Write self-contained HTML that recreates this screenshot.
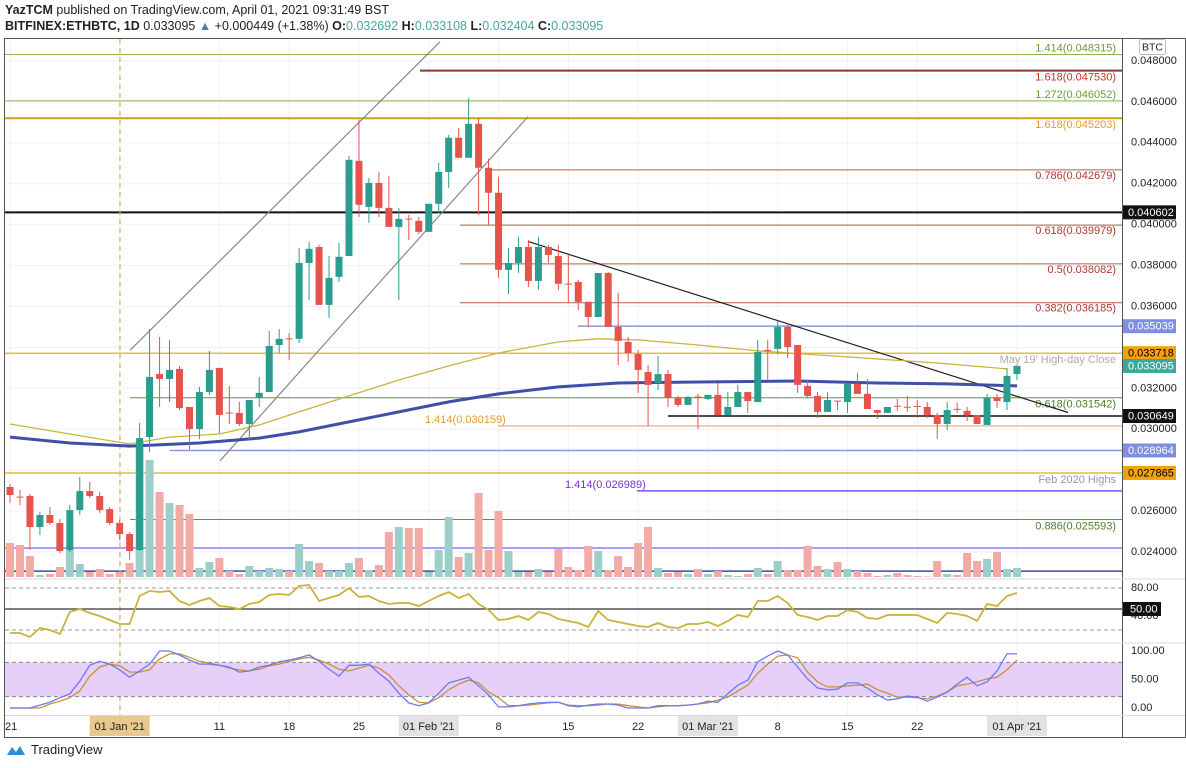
<!DOCTYPE html>
<html><head><meta charset="utf-8">
<style>
html,body{margin:0;padding:0;background:#fff;width:1186px;height:768px;overflow:hidden;font-family:"Liberation Sans",sans-serif;}
#hdr1{position:absolute;left:5px;top:3px;font-size:12.5px;color:#222;}
#hdr2{position:absolute;left:5px;top:19px;font-size:12.5px;color:#222;}
.v{color:#4aa3a3}
#chart{position:absolute;left:0;top:0}
#logo{position:absolute;left:5px;top:742px;font-size:13px;color:#222;display:flex;align-items:center;gap:4px}
</style></head>
<body>
<div id="hdr1"><b>YazTCM</b> published on TradingView.com, April 01, 2021 09:31:49 BST</div>
<div id="hdr2"><b>BITFINEX:ETHBTC, 1D</b> 0.033095 <span style="color:#4a7fa8">▲</span> +0.000449 (+1.38%) <b>O:</b><span class="v">0.032692</span> <b>H:</b><span class="v">0.033108</span> <b>L:</b><span class="v">0.032404</span> <b>C:</b><span class="v">0.033095</span></div>
<svg id="chart" width="1186" height="768"></svg>
<div id="logo"><svg width="22" height="14"><path d="M2 12 L7 4 L11 9 L15 3 L20 12 Z" fill="#2d8fd5"/></svg>TradingView</div>
<script>
const opens=[.02718,.02671,.02674,.02522,.02581,.02542,.02410,.02605,.02698,.02674,.02610,.02542,.02488,.02410,.02962,.03270,.03246,.03295,.03109,.03001,.03182,.03300,.03082,.03080,.03026,.03153,.03182,.03412,.03444,.03442,.03813,.03891,.03608,.03745,.03847,.04312,.04087,.04204,.04082,.03989,.04030,.04019,.03965,.04102,.04258,.04425,.04327,.04493,.04278,.04156,.03779,.03813,.03891,.03725,.03891,.03847,.03712,.03720,.03623,.03549,.03764,.03500,.03427,.03368,.03280,.03226,.03270,.03153,.03119,.03160,.03148,.03168,.03070,.03109,.03182,.03133,.03388,.03393,.03500,.03412,.03212,.03163,.03085,.03140,.03133,.03222,.03173,.03094,.03080,.03115,.03110,.03114,.03109,.03070,.03026,.03100,.03090,.03070,.03021,.03153,.03133,.03270];
const closes=[.02679,.02668,.02522,.02581,.02542,.02405,.02605,.02698,.02674,.02605,.02542,.02488,.02405,.02957,.03256,.03246,.03290,.03104,.03001,.03182,.03290,.03070,.03078,.03026,.03143,.03178,.03407,.03442,.03440,.03813,.03882,.03608,.03740,.03843,.04317,.04097,.04204,.04082,.03989,.04028,.04026,.03965,.04102,.04258,.04425,.04327,.04493,.04278,.04156,.03779,.03813,.03891,.03725,.03891,.03852,.03711,.03710,.03623,.03549,.03764,.03500,.03432,.03373,.03290,.03217,.03270,.03153,.03119,.03158,.03156,.03168,.03070,.03109,.03182,.03138,.03378,.03386,.03500,.03402,.03217,.03163,.03085,.03143,.03136,.03222,.03173,.03099,.03080,.03109,.03112,.03107,.03111,.03070,.03026,.03094,.03097,.03070,.03026,.03153,.03138,.03261,.03310];
const highs=[.02733,.02703,.02684,.02596,.02620,.02561,.02630,.02767,.02742,.02693,.02620,.02556,.02498,.03031,.03490,.03451,.03437,.03310,.03109,.03207,.03383,.03300,.03212,.03134,.03143,.03256,.03481,.03490,.03471,.03887,.03916,.03901,.03847,.03911,.04336,.04512,.04229,.04258,.04239,.04082,.04048,.04038,.04102,.04302,.04439,.04473,.04620,.04522,.04322,.04234,.03887,.03940,.03926,.03940,.03901,.03901,.03852,.03730,.03623,.03764,.03769,.03667,.03451,.03388,.03314,.03358,.03290,.03163,.03163,.03173,.03168,.03226,.03182,.03217,.03182,.03437,.03437,.03530,.03510,.03412,.03241,.03182,.03182,.03140,.03222,.03275,.03246,.03094,.03109,.03148,.03163,.03143,.03133,.03080,.03133,.03129,.03109,.03070,.03173,.03173,.03300,.03310];
const lows=[.02640,.02630,.02410,.02483,.02532,.02395,.02400,.02581,.02664,.02591,.02532,.02459,.02361,.02405,.02889,.03109,.03133,.03094,.02899,.02953,.03168,.02982,.03026,.03016,.02948,.03109,.03182,.03373,.03339,.03422,.03632,.03608,.03544,.03720,.03847,.04038,.04009,.04038,.03989,.03632,.03926,.03955,.03965,.04058,.04180,.04327,.04327,.04048,.03999,.03740,.03662,.03764,.03696,.03681,.03813,.03681,.03618,.03583,.03500,.03549,.03500,.03314,.03329,.03178,.03016,.03192,.03109,.03109,.03119,.03001,.03143,.03070,.03070,.03109,.03080,.03133,.03241,.03368,.03349,.03178,.03153,.03055,.03085,.03094,.03080,.03173,.03099,.03050,.03080,.03090,.03085,.03055,.03055,.02953,.02997,.03080,.03041,.03026,.03021,.03104,.03094,.03241];
const volumes=[34,32,21,2,3,10,27,13,5,8,3,5,14,135,117,85,74,72,63,9,15,19,6,3,11,6,9,8,6,33,16,14,6,6,14,19,7,12,45,50,49,49,5,27,60,20,24,84,27,66,26,5,5,8,5,28,10,7,31,26,7,21,10,34,50,9,4,5,3,8,3,6,2,1,3,9,3,16,7,7,31,11,8,15,8,6,4,1,2,4,2,1,0.5,16,3,2,24,16,18,25,8,9];
const rsiVals=[15.7,15.7,10,22.9,20,14.3,45.7,50,44.3,40,34.3,28.6,28.6,68.6,75.7,74.3,75.7,61.4,55.7,61.4,65.7,54.3,52.9,50,57.1,60,70,71.4,70,82.9,84.3,61.4,65.7,70,80,67.1,68.6,61.4,57.1,58.6,58.6,54.3,61.4,68.6,74.3,65.7,71.4,57.1,48.6,34.3,35.7,40,34.3,45.7,42.9,35.7,32.9,30,24.3,47.1,34.3,31.4,28.6,25.7,24.3,30,24.3,22.9,28.6,28.6,31.4,25.7,32.9,41.4,38.6,61.4,61.4,68.6,58.6,41.4,38.6,34.3,40,40,48.6,45.7,37.1,35.7,41.4,41.4,41.4,41.4,35.7,30,44.3,42.9,40,32.9,57.1,54.3,68.6,72.9];
const stochK=[0,0,0,5,10,18,25,47,75,82,77,67,54,65,77,100,100,93,84,77,77,75,72,63,65,72,75,81,84,88,93,82,68,56,75,75,77,61,47,26,9,4,9,26,44,49,54,39,23,2,2,4,7,9,10,10,4,2,5,7,7,5,0,0,0,4,4,4,5,7,12,10,25,40,49,81,91,100,93,72,51,35,32,33,44,44,35,23,14,16,21,19,12,19,28,42,54,39,46,65,95,95];
const stochD=[0,0,0,0,7,12,18,30,56,72,77,74,63,63,67,86,95,95,89,82,79,75,70,67,65,68,74,77,82,86,89,84,77,68,65,70,75,70,58,39,23,10,9,18,32,42,49,44,28,18,4,4,5,7,9,10,5,4,4,5,7,7,4,2,0,2,4,4,5,7,9,14,19,30,40,61,77,91,93,88,63,46,37,37,39,40,42,32,26,19,19,18,16,21,28,39,42,46,51,54,67,84];
const ma1Idx=[0,6,12,16,21,25,29,34,39,44,49,55,59,63,69,75,84,93,100];
const ma1Vals=[.03026,.02977,.02928,.02962,.02977,.03021,.03085,.03163,.03241,.03310,.03373,.03427,.03442,.03437,.03412,.03383,.03354,.03324,.03295];
const ma2Idx=[0,6,12,19,25,29,34,39,44,49,55,61,69,79,87,94,101];
const ma2Vals=[.02962,.02933,.02918,.02933,.02957,.02987,.03036,.03085,.03134,.03173,.03207,.03226,.03231,.03236,.03226,.03222,.03212];
const priceTicks=[0.048,0.046,0.044,0.042,0.040,0.038,0.036,0.034,0.032,0.030,0.028,0.026,0.024];
const dateLabels=["21","01 Jan '21","11","18","25","01 Feb '21","8","15","22","01 Mar '21","8","15","22","01 Apr '21"];
const dateIdx=[0,11,21,28,35,42,49,56,63,70,77,84,91,101];
const tagPrices=[0.040602,0.035039,0.033718,0.033095,0.030649,0.028964,0.027865];

const svg=document.getElementById('chart');
const NS='http://www.w3.org/2000/svg';
function mk(tag,at,parent){const e=document.createElementNS(NS,tag);for(const k in at)e.setAttribute(k,at[k]);(parent||svg).appendChild(e);return e;}
const yP=p=>61+(0.048-p)/0.002*40.92;
const xI=i=>10+i*9.97;
const yV=v=>577-v;
const yR=v=>609-(v-50)*0.7;
const yS=v=>708-v*0.57;
const R=1122;

let e;
e=mk('rect',{x:4.5,y:38.5,width:1181,height:699,fill:'none',stroke:'#555','stroke-width':1});

priceTicks.forEach(p=>{e=mk('line',{x1:5,x2:R,y1:yP(p),y2:yP(p),stroke:'#f0f2f6'});});
dateIdx.forEach(i=>{e=mk('line',{x1:xI(i),x2:xI(i),y1:39,y2:715,stroke:'#f0f2f6'});});
e=mk('line',{x1:R+0.5,x2:R+0.5,y1:39,y2:737,stroke:'#555'});
[579,643].forEach(y=>{e=mk('line',{x1:5,x2:1185,y1:y,y2:y,stroke:'#d8dbe3'});});
e=mk('line',{x1:5,x2:1185,y1:715.5,y2:715.5,stroke:'#d8dbe3'});

const levels=[
 [0.048315,'#8bb84f',5,1,'1.414(0.048315)','#6d9b3a',-6],
 [0.047530,'#8a3a28',420,2,'1.618(0.047530)','#c0392b',7],
 [0.046052,'#8bb84f',5,1,'1.272(0.046052)','#6d9b3a',-6],
 [0.045203,'#c8a415',5,2,'1.618(0.045203)','#e0a020',7],
 [0.042679,'#b0604a',485,1,'0.786(0.042679)','#b03a2e',6],
 [0.040602,'#111',5,2,'',null,0],
 [0.039979,'#b0604a',460,1,'0.618(0.039979)','#b03a2e',6],
 [0.038082,'#b0604a',460,1,'0.5(0.038082)','#b03a2e',6],
 [0.036185,'#b0604a',460,1,'0.382(0.036185)','#b03a2e',6],
 [0.035039,'#8a97dd',578,1.5,'',null,0],
 [0.033718,'#e0c23a',5,1.5,"May 19' High-day Close",'#aaaaaa',7],
 [0.031542,'#6b8e3a',130,1,'0.618(0.031542)','#4f7f2a',7],
 [0.030649,'#111',668,1.5,'',null,0],
 [0.030159,'#d9a06a',498,1,'',null,0],
 [0.028964,'#8a97dd',170,1.5,'',null,0],
 [0.027865,'#d6c23a',5,1.5,'Feb 2020 Highs','#999999',7],
 [0.026989,'#7c4dff',637,1.5,'',null,0],
 [0.025593,'#6b8e3a',130,1,'0.886(0.025593)','#4f7f2a',7],
 [0.02420,'#8e7cff',5,1.5,'',null,0],
 [0.02307,'#3949ab',5,1.5,'',null,0]];
levels.forEach(l=>{const y=yP(l[0]);
 e=mk('line',{x1:l[2],x2:R,y1:y,y2:y,stroke:l[1],'stroke-width':l[3]});
 
 if(l[4]){e=mk('text',{x:1116,y:y+l[6],'text-anchor':'end','dominant-baseline':'middle','font-size':11,fill:l[5]});e.textContent=l[4];
 }
});
e=mk('text',{x:425,y:yP(0.030159)-6,'font-size':11,fill:'#e39b2b','dominant-baseline':'middle'});e.textContent='1.414(0.030159)';

e=mk('text',{x:565,y:yP(0.026989)-6,'font-size':11,fill:'#7b2fd0','dominant-baseline':'middle'});e.textContent='1.414(0.026989)';


e=mk('line',{x1:120,x2:120,y1:39,y2:715,stroke:'#d4b06a','stroke-dasharray':'5,4','stroke-width':1.2});


volumes.forEach((v,i)=>{const up=closes[i]>=opens[i];
 e=mk('rect',{x:xI(i)-4,y:yV(v),width:8,height:v,fill:up?'#9ccfca':'#f2aaa5'});
 });

[[130,yP(0.03386),440,yP(0.04894)],[220,yP(0.02846),528,yP(0.04528)],[528,yP(0.03918),1068,yP(0.03082)]].forEach((t,k)=>{
 e=mk('line',{x1:t[0],y1:t[1],x2:t[2],y2:t[3],stroke:k<2?'#888':'#222','stroke-width':1.2});
 });

function maPath(idx,vals,col,w){let d='';idx.forEach((i,k)=>{d+=(k?'L':'M')+xI(i).toFixed(1)+' '+yP(vals[k]).toFixed(1);});
 return mk('path',{d:d,fill:'none',stroke:col,'stroke-width':w});}
e=maPath(ma1Idx,ma1Vals,'#c9b43a',1.3);
e=maPath(ma2Idx,ma2Vals,'#3f4fa8',3);

opens.forEach((o,i)=>{const c=closes[i],up=c>=o,col=up?'#2a9d8f':'#e5534b',x=xI(i);
 e=mk('line',{x1:x,x2:x,y1:yP(highs[i]),y2:yP(lows[i]),stroke:col,'stroke-width':1});
 
 const y1=yP(Math.max(o,c)),y2=yP(Math.min(o,c));
 e=mk('rect',{x:x-3.5,y:y1,width:7,height:Math.max(1,y2-y1),fill:col});
 });

e=mk('line',{x1:5,x2:R,y1:yR(80),y2:yR(80),stroke:'#999','stroke-dasharray':'4,3'});
e=mk('line',{x1:5,x2:R,y1:yR(20),y2:yR(20),stroke:'#999','stroke-dasharray':'4,3'});
e=mk('line',{x1:5,x2:R,y1:yR(50),y2:yR(50),stroke:'#333','stroke-width':1.2});
e=mk('polyline',{points:rsiVals.map((v,i)=>xI(i).toFixed(1)+','+yR(v).toFixed(1)).join(' '),fill:'none',stroke:'#c9b43a','stroke-width':1.8});


e=mk('rect',{x:5,y:yS(80),width:R-5,height:yS(20)-yS(80),fill:'#e6d0fa'});
[80,20].forEach(v=>{e=mk('line',{x1:5,x2:R,y1:yS(v),y2:yS(v),stroke:'#888','stroke-dasharray':'4,3'});});
e=mk('polyline',{points:stochD.map((v,i)=>xI(i).toFixed(1)+','+yS(v).toFixed(1)).join(' '),fill:'none',stroke:'#c9903a','stroke-width':1.3});

e=mk('polyline',{points:stochK.map((v,i)=>xI(i).toFixed(1)+','+yS(v).toFixed(1)).join(' '),fill:'none',stroke:'#6b7bf0','stroke-width':1.3});


priceTicks.forEach(p=>{
 if(tagPrices.some(t=>Math.abs(yP(t)-yP(p))<9))return;
 e=mk('text',{x:1131,y:yP(p),'dominant-baseline':'middle','font-size':11,fill:'#222'});e.textContent=p.toFixed(6);
 });
e=mk('rect',{x:1139.5,y:39.5,width:26,height:15,rx:2,fill:'#fff',stroke:'#bbb'});
e=mk('text',{x:1152.5,y:47.5,'text-anchor':'middle','dominant-baseline':'middle','font-size':10.5,fill:'#222'});e.textContent='BTC';
const tagStyles=[['#111','#fff'],['#7f8fe0','#fff'],['#f0a30a','#000'],['#3aa89d','#fff'],['#111','#fff'],['#7f8fe0','#fff'],['#f0a30a','#000']];
tagPrices.forEach((p,k)=>{const y=yP(p);
 e=mk('rect',{x:1123,y:y-7,width:53,height:14,fill:tagStyles[k][0]});
 e=mk('text',{x:1128,y:y+0.5,'dominant-baseline':'middle','font-size':11,fill:tagStyles[k][1]});e.textContent=p.toFixed(6);});
[[80,'80.00'],[40,'40.00']].forEach(t=>{e=mk('text',{x:1131,y:yR(t[0]),'dominant-baseline':'middle','font-size':11,fill:'#222'});e.textContent=t[1];});
e=mk('rect',{x:1123,y:yR(50)-7,width:38,height:14,fill:'#111'});
e=mk('text',{x:1130,y:yR(50)+0.5,'dominant-baseline':'middle','font-size':11,fill:'#fff'});e.textContent='50.00';
[[100,'100.00'],[50,'50.00'],[0,'0.00']].forEach(t=>{e=mk('text',{x:1131,y:yS(t[0]),'dominant-baseline':'middle','font-size':11,fill:'#222'});e.textContent=t[1];});

dateLabels.forEach((s,k)=>{const x=xI(dateIdx[k]);const big=s.length>3;
 if(big){e=mk('rect',{x:x-30,y:716,width:60,height:20,fill:k===1?'#e8c88f':'#e2e2e2'});}
 e=mk('text',{x:k===0?5:x,y:727,'text-anchor':k===0?'start':'middle','dominant-baseline':'middle','font-size':11,fill:'#222'});e.textContent=s;
 });
</script>
</body></html>
